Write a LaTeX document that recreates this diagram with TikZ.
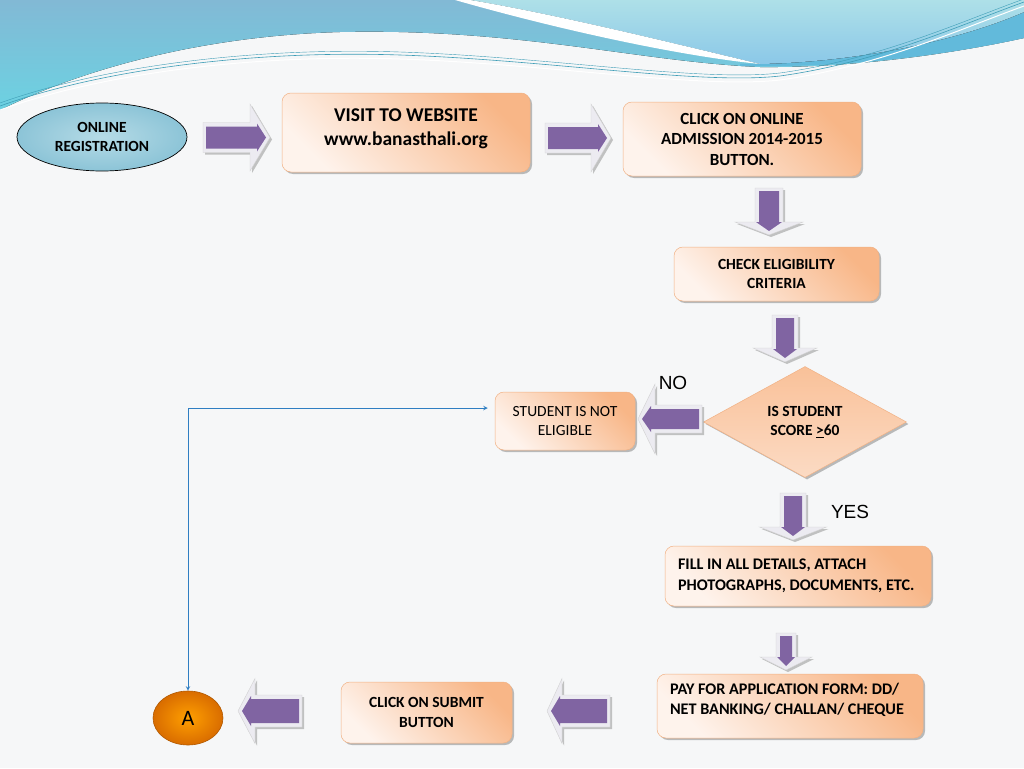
\documentclass[tikz,border=0pt]{standalone}
\usepackage{fontspec}
\setmainfont{Carlito}
\newfontfamily\arialfont{Liberation Sans}
\usetikzlibrary{shapes,arrows,calc,shadows}

\definecolor{pagebg}{HTML}{F6F7F8}
\definecolor{waveblue}{HTML}{82B9D5}
\definecolor{wavecyan}{HTML}{6CD2E2}
\definecolor{wavelight}{HTML}{AEE0E8}
\definecolor{wavesky}{HTML}{8BC8E8}
\definecolor{waveband}{HTML}{62BADB}
\definecolor{waveline}{HTML}{3E9DB6}
\definecolor{boxdark}{HTML}{F8B687}
\definecolor{boxlight}{HTML}{FEF3EC}
\definecolor{boxedge}{HTML}{F1B184}
\definecolor{arrowpurple}{HTML}{8064A2}
\definecolor{arrowrim}{HTML}{ECEBF1}
\definecolor{linkblue}{HTML}{2F7EC2}
\definecolor{regblue}{HTML}{A3D2E0}
\definecolor{regedge}{HTML}{8CC4D7}

% block arrow: x, y, angle, length, shaft width, head width, head length
\newcommand{\blockarrow}[7]{%
  \begin{scope}[shift={(#1+2,#2+2)},rotate=#3]
    \fill[black!45,opacity=0.5] (-#4/2,-#5/2) -- ({#4/2-#7},-#5/2) -- ({#4/2-#7},-#6/2) -- (#4/2,0) -- ({#4/2-#7},#6/2) -- ({#4/2-#7},#5/2) -- (-#4/2,#5/2) -- cycle;
  \end{scope}
  \begin{scope}[shift={(#1,#2)},rotate=#3]
    \filldraw[fill=arrowrim,draw=black!18,line width=0.4pt] (-#4/2,-#5/2) -- ({#4/2-#7},-#5/2) -- ({#4/2-#7},-#6/2) -- (#4/2,0) -- ({#4/2-#7},#6/2) -- ({#4/2-#7},#5/2) -- (-#4/2,#5/2) -- cycle;
    \fill[arrowpurple] ({-#4/2+3},{-#5/2+4}) -- ({#4/2-13},{-#5/2+4}) -- ({#4/2-13},{-#5/2+1}) -- ({#4/2-4},0) -- ({#4/2-13},{#5/2-1}) -- ({#4/2-13},{#5/2-4}) -- ({-#4/2+3},{#5/2-4}) -- cycle;
  \end{scope}}

\begin{document}
\begin{tikzpicture}[x=1pt,y=-1pt,
    flowbox/.style={rectangle, rounded corners=9pt, draw=boxedge, line width=0.5pt,
      bottom color=boxlight, top color=boxdark, shading angle=-45,
      drop shadow={shadow xshift=2pt, shadow yshift=-2pt, fill=black, opacity=0.25},
      align=center, inner sep=0pt, font=\fontsize{15.5}{19.5}\selectfont\bfseries},
    decision/.style={diamond, draw=boxedge, line width=0.5pt,
      bottom color=boxlight!60!boxdark, top color=boxdark!85,
      drop shadow={shadow xshift=2pt, shadow yshift=-2pt, fill=black, opacity=0.25},
      align=center, inner sep=0pt, aspect=1.8, font=\fontsize{15.5}{19.5}\selectfont\bfseries},
    label text/.style={font=\arialfont\fontsize{19}{19}\selectfont}]
      \useasboundingbox (0,0) rectangle (1024,768);
      \fill[pagebg] (0,0) rectangle (1024,768);

      \fill[top color=waveblue, bottom color=wavecyan] (0,0) -- (1024,0) -- (1024,38) .. controls (960,52) and (860,68) .. (760,67) .. controls (640,62) and (520,28) .. (340,32) .. controls (200,36) and (80,70) .. (0,110) -- cycle;
      \fill[waveband] (740,64) .. controls (860,62) and (960,40) .. (1024,12) -- (1024,38) .. controls (960,52) and (860,68) .. (740,66) -- cycle;
      \fill[top color=wavelight, bottom color=wavesky] (470,0) .. controls (560,15) and (680,45) .. (760,64) .. controls (860,62) and (960,40) .. (1024,12) -- (1024,0) -- cycle;
      \fill[white] (455,0) .. controls (560,30) and (680,56) .. (760,64) .. controls (680,45) and (560,15) .. (470,0) -- cycle;
      \draw[waveline, line width=0.6pt] (0,106) .. controls (100,70) and (250,50) .. (400,55) .. controls (550,60) and (700,85) .. (780,76) .. controls (880,62) and (960,25) .. (1024,2);
      \draw[white, line width=1pt] (0,110) .. controls (100,74) and (250,54) .. (400,59) .. controls (550,64) and (700,89) .. (780,80) .. controls (880,66) and (960,29) .. (1024,6);
      \draw[waveline, line width=0.4pt] (0,103) .. controls (100,67) and (250,47) .. (400,52) .. controls (550,57) and (700,82) .. (780,73) .. controls (880,59) and (960,22) .. (1024,-1);

      \node[ellipse, draw=black, line width=0.7pt, inner color=regblue!80!white, outer color=regedge,
        minimum width=170, minimum height=68, inner sep=0pt, align=center,
        font=\fontsize{15.5}{19.5}\selectfont\bfseries] (reg) at (102,137) {ONLINE\\REGISTRATION};
      \node[flowbox, minimum width=248, minimum height=79, text depth=10pt,
        font=\fontsize{19.5}{24}\selectfont\bfseries] (visit) at (406,132.5) {VISIT TO WEBSITE\\www.banasthali.org};
      \node[flowbox, minimum width=238, minimum height=74,
        font=\fontsize{17}{20.5}\selectfont\bfseries] (click) at (742,139) {CLICK ON ONLINE\\ADMISSION 2014-2015\\BUTTON.};
      \node[flowbox, minimum width=205, minimum height=54] (check) at (776.5,274) {CHECK ELIGIBILITY\\CRITERIA};
      \node[decision, minimum width=203, minimum height=111] (score) at (805,422) {IS STUDENT\\SCORE \underline{>}60};
      \node[flowbox, minimum width=140, minimum height=58,
        font=\fontsize{15.5}{19.5}\selectfont] (noteligible) at (565,421) {STUDENT IS NOT\\ELIGIBLE};
      \node[flowbox, minimum width=266, minimum height=60, align=flush left, text width=240pt,
        font=\fontsize{16.2}{20.5}\selectfont\bfseries] (fill) at (798,576) {FILL IN ALL DETAILS, ATTACH\\PHOTOGRAPHS, DOCUMENTS, ETC.};
      \node[flowbox, minimum width=266, minimum height=64, align=flush left, text width=240pt, text depth=35pt,
        font=\fontsize{16.2}{20.5}\selectfont\bfseries] (pay) at (790,706) {PAY FOR APPLICATION FORM: DD/\\NET BANKING/ CHALLAN/ CHEQUE};
      \node[flowbox, minimum width=171, minimum height=61] (submit) at (426.5,712.5) {CLICK ON SUBMIT\\BUTTON};
      \node[ellipse, draw=orange!70!black, line width=0.6pt, inner color=orange!75!yellow, outer color=orange!85!black,
        minimum width=70, minimum height=54, inner sep=0pt,
        font=\fontsize{22}{22}\selectfont] (nodeA) at (188,718) {A};

      \node[label text] (no) at (673,383) {NO};
      \node[label text] (yes) at (850,512) {YES};

      \blockarrow{236.5}{137.5}{0}{67}{30}{67}{20}
      \blockarrow{578}{138}{0}{66}{30}{68}{20}
      \blockarrow{769}{211.5}{-90}{47}{28}{68}{13}
      \blockarrow{785}{338.5}{-90}{47}{26}{64}{14}
      \blockarrow{670}{419}{180}{64}{28}{70}{17}
      \blockarrow{793}{516.5}{-90}{47}{26}{67}{13}
      \blockarrow{786}{651.5}{-90}{37}{20}{52}{13}
      \blockarrow{578.5}{711}{180}{63}{32}{65}{15}
      \blockarrow{270}{711}{180}{64}{32}{65}{17}

      \coordinate (lnk) at ($(noteligible.west)+(-7,-13)$);
      \draw[linkblue, line width=1pt, <->, >=stealth] (lnk) -| (nodeA.north);
    \end{tikzpicture}
\end{document}
